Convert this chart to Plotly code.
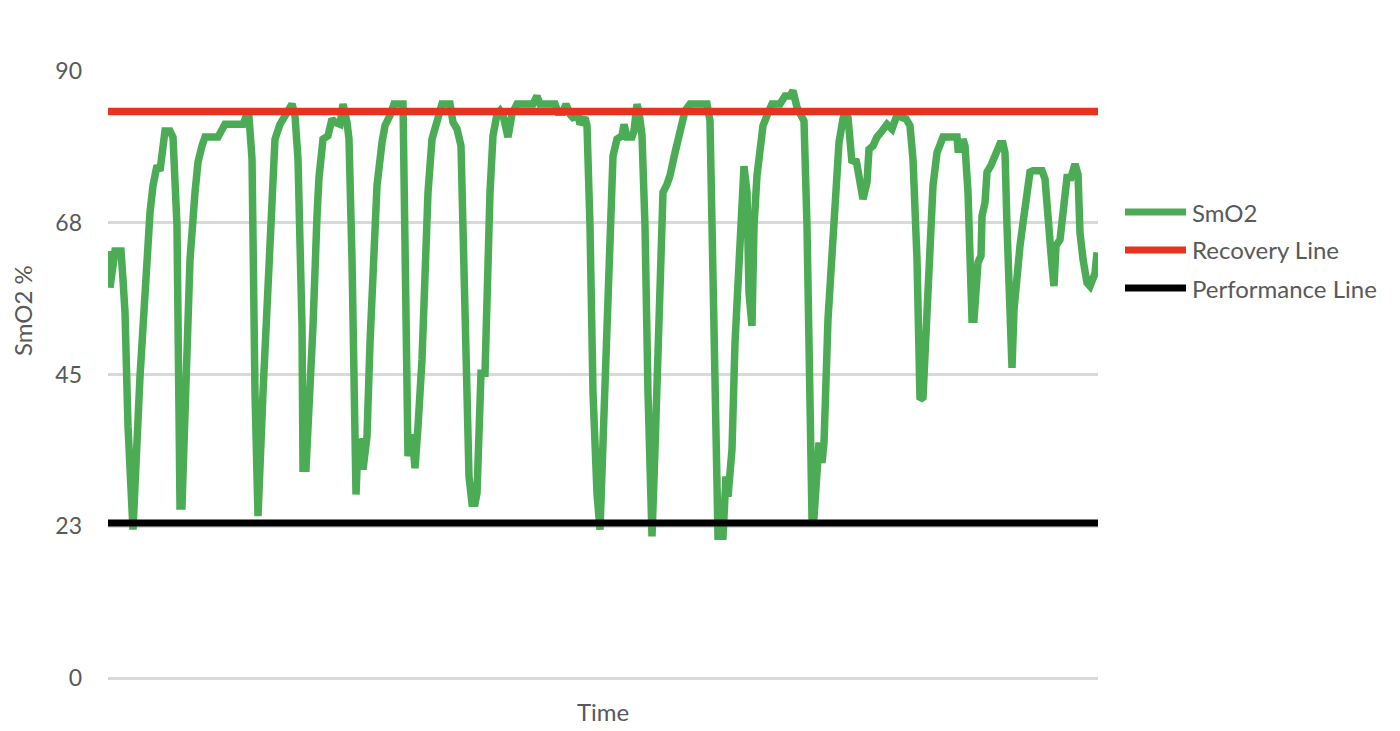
import plotly.graph_objects as go

# Time (seconds, relative) and SmO2 readings
time_s = [0, 2, 7, 13, 15, 17, 20, 25, 32, 39, 42, 45, 49, 52, 54, 57, 62, 65, 69, 72, 74, 77, 82, 87, 90, 94, 97,
          110, 114, 117, 135, 139, 141, 144, 147, 150, 155, 160, 164, 167, 172, 177, 184, 187, 190, 194, 195, 198,
          202, 205, 209, 211, 215, 220, 224, 227, 232, 235, 239, 241, 244, 246, 248, 250, 253, 255, 259, 262, 265,
          269, 274, 277, 282, 286, 295, 297, 299, 300, 304, 307, 310, 314, 317, 320, 324, 327, 330, 334, 337, 342,
          345, 349, 353, 355, 359, 361, 364, 367, 369, 373, 377, 379, 382, 385, 389, 392, 395, 400, 404, 409, 425,
          429, 432, 447, 450, 455, 458, 462, 465, 470, 472, 477, 479, 482, 485, 489, 492, 495, 499, 503, 505, 509,
          514, 516, 519, 524, 526, 529, 531, 534, 537, 540, 543, 544, 547, 550, 554, 555, 559, 562, 567, 572, 577,
          582, 599, 602, 605, 608, 610, 615, 618, 620, 624, 627, 630, 634, 636, 639, 641, 644, 646, 649, 652, 655,
          659, 664, 672, 675, 677, 682, 685, 689, 692, 696, 699, 701, 704, 706, 709, 711, 714, 716, 720, 724, 727,
          731, 735, 737, 740, 744, 748, 750, 752, 755, 759, 761, 765, 769, 774, 779, 784, 787, 790, 794, 798, 802,
          805, 809, 812, 815, 819, 822, 825, 829, 832, 835, 845, 849, 850, 854, 855, 857, 860, 862, 864, 866, 868,
          870, 873, 874, 877, 879, 883, 885, 889, 892, 895, 897, 899, 902, 904, 906, 909, 912, 915, 919, 922, 925,
          934, 937, 940, 944, 946, 948, 952, 955, 959, 963, 965, 967, 970, 972, 975, 979, 982, 985, 987, 989]

smo2 = [63.3, 57.9, 63.3, 63.3, 59.1, 54.2, 37.3, 22.0, 44.7, 65.0, 69.0, 73.0, 76.0, 75.2, 78.0, 81.1, 81.1, 80.2,
        67.0, 25.5, 25.5, 42.3, 62.0, 72.0, 76.5, 78.9, 80.2,
        80.2, 81.4, 82.1, 82.1, 83.6, 83.2, 77.0, 42.3, 24.0, 42.3, 57.0, 72.0, 79.9, 82.1, 83.4, 85.1, 83.4, 76.9,
        52.2, 31.1, 31.1,
        42.3, 52.2, 68.5, 74.2, 79.9, 80.4, 82.9, 82.4, 82.1, 85.1, 82.4, 79.9, 62.1, 37.3, 27.2, 34.9, 35.0, 30.9,
        35.8, 49.7, 62.1,
        73.0, 79.4, 81.9, 83.4, 85.1, 85.1, 67.0, 42.3, 32.9, 36.1, 31.1, 37.3, 47.2, 59.6, 72.0, 79.9, 81.4, 83.1,
        85.1, 85.1, 85.1,
        82.4, 81.4, 78.9, 67.0, 47.2, 29.9, 25.9, 25.9, 27.4, 45.2, 45.2, 57.1, 72.0, 80.4, 83.6, 84.1, 83.4, 80.2,
        83.6, 85.1, 85.1,
        86.3, 85.1, 85.1, 83.9, 83.9, 85.1, 83.6, 83.1, 83.4, 82.1, 83.1, 81.9, 67.0, 42.3, 27.4, 22.0, 34.9, 52.2,
        72.0, 77.4, 79.9,
        80.4, 82.1, 80.2, 80.2, 81.1, 85.1, 83.9, 80.4, 67.0, 42.3, 27.4, 21.0, 33.9, 47.2, 62.1, 72.0, 73.2, 74.5,
        77.9, 81.4, 84.1,
        85.1, 85.1, 82.6, 62.1, 37.3, 21.0, 21.0, 29.9, 26.9, 33.9, 49.7, 59.6, 72.0, 75.9, 72.0, 57.1, 52.2, 67.0,
        74.5, 77.9, 81.9,
        83.4, 85.1, 85.1, 86.1, 86.3, 86.3, 87.1, 84.6, 83.9, 82.6, 67.0, 42.3, 23.5, 23.8, 34.4, 34.9, 31.9, 34.9,
        53.2, 62.1, 72.0,
        79.4, 82.9, 83.9, 83.1, 76.4, 76.9, 75.0, 72.5, 71.0, 73.5, 78.4, 78.9, 80.2, 81.1, 82.1, 81.4, 83.1, 83.9,
        83.1, 82.9, 81.9,
        76.9, 62.1, 41.3, 41.6, 52.2, 64.6, 73.0, 77.9, 79.2, 80.2, 80.2, 80.2, 78.4, 78.4, 79.9, 78.9, 72.0, 62.1,
        53.2, 53.2, 61.1,
        61.6, 62.6, 68.5, 70.5, 75.0, 76.0, 76.9, 78.4, 79.2, 79.2, 77.9, 67.0, 52.2, 46.0, 54.6, 61.1, 64.1, 67.5,
        71.0, 75.0, 75.2,
        75.2, 74.0, 67.0, 61.1, 58.1, 64.1, 65.0, 69.5, 74.2, 74.2, 75.9, 76.2, 74.7, 66.0, 62.1, 58.6, 58.1, 58.9,
        60.0, 63.1]

x_span = [0, 990]
recovery_level = 84
performance_level = 23

y_tickvals = [0, 22.5, 45, 67.5, 90]
y_ticktext = ["0", "23", "45", "68", "90"]

series_names = ["SmO2", "Recovery Line", "Performance Line"]
series_colors = ["#4CAC55", "#E8321F", "#000000"]

FONT = "Lato, 'Open Sans', sans-serif"
GRAY = "#595959"

fig = go.Figure()
fig.add_trace(go.Scatter(x=time_s, y=smo2, mode="lines", name=series_names[0],
                         line=dict(color=series_colors[0], width=7.5), showlegend=False))
fig.add_trace(go.Scatter(x=x_span, y=[recovery_level] * 2, mode="lines", name=series_names[1],
                         line=dict(color=series_colors[1], width=7.5), showlegend=False))
fig.add_trace(go.Scatter(x=x_span, y=[performance_level] * 2, mode="lines", name=series_names[2],
                         line=dict(color=series_colors[2], width=7), showlegend=False))

# Page body has an 8px margin, so the figure is laid out 8px in from the window corner.
OFF = 8
W, H = 1400 - OFF, 731 - OFF
L, T = 108 - OFF, 71 - OFF
pw, ph = 990, 607
R = W - L - pw
B = H - T - ph


def px_x(x):
    return (x - OFF - L) / pw


def px_y(y):
    return (H - B - (y - OFF)) / ph


# Manual legend (long line swatches like the original)
legend_y_px = [212, 250, 288]
for name, color, ypx in zip(series_names, series_colors, legend_y_px):
    yp = px_y(ypx)
    fig.add_shape(type="line", xref="paper", yref="paper",
                  x0=px_x(1125), x1=px_x(1186), y0=yp, y1=yp,
                  line=dict(color=color, width=7))
    fig.add_annotation(xref="paper", yref="paper", x=px_x(1190), y=yp,
                       text=name, showarrow=False, xanchor="left", yanchor="middle",
                       font=dict(family=FONT, size=24, color=GRAY))

# Y axis title
fig.add_annotation(xref="paper", yref="paper", x=px_x(22), y=px_y(311),
                   text="SmO2 %", textangle=-90, showarrow=False,
                   xanchor="center", yanchor="middle",
                   font=dict(family=FONT, size=24, color=GRAY))

# X axis title
fig.add_annotation(xref="paper", yref="paper", x=0.5, y=px_y(711),
                   text="Time", showarrow=False, xanchor="center", yanchor="middle",
                   font=dict(family=FONT, size=24, color=GRAY))

fig.update_layout(
    width=W, height=H,
    margin=dict(l=L, r=R, t=T, b=B, pad=0),
    paper_bgcolor="white", plot_bgcolor="white",
    font=dict(family=FONT, color=GRAY, size=22),
    xaxis=dict(range=x_span, showticklabels=False, showgrid=False, zeroline=False,
               showline=False, ticks=""),
    yaxis=dict(range=[0, 90], tickvals=y_tickvals, ticktext=y_ticktext,
               showgrid=True, gridcolor="#D9D9D9", gridwidth=2.5,
               zeroline=True, zerolinecolor="#D9D9D9", zerolinewidth=2.5,
               showline=False, ticks="", ticklabelstandoff=25,
               tickfont=dict(family=FONT, size=23, color=GRAY)),
)

fig.write_html("out.html")
